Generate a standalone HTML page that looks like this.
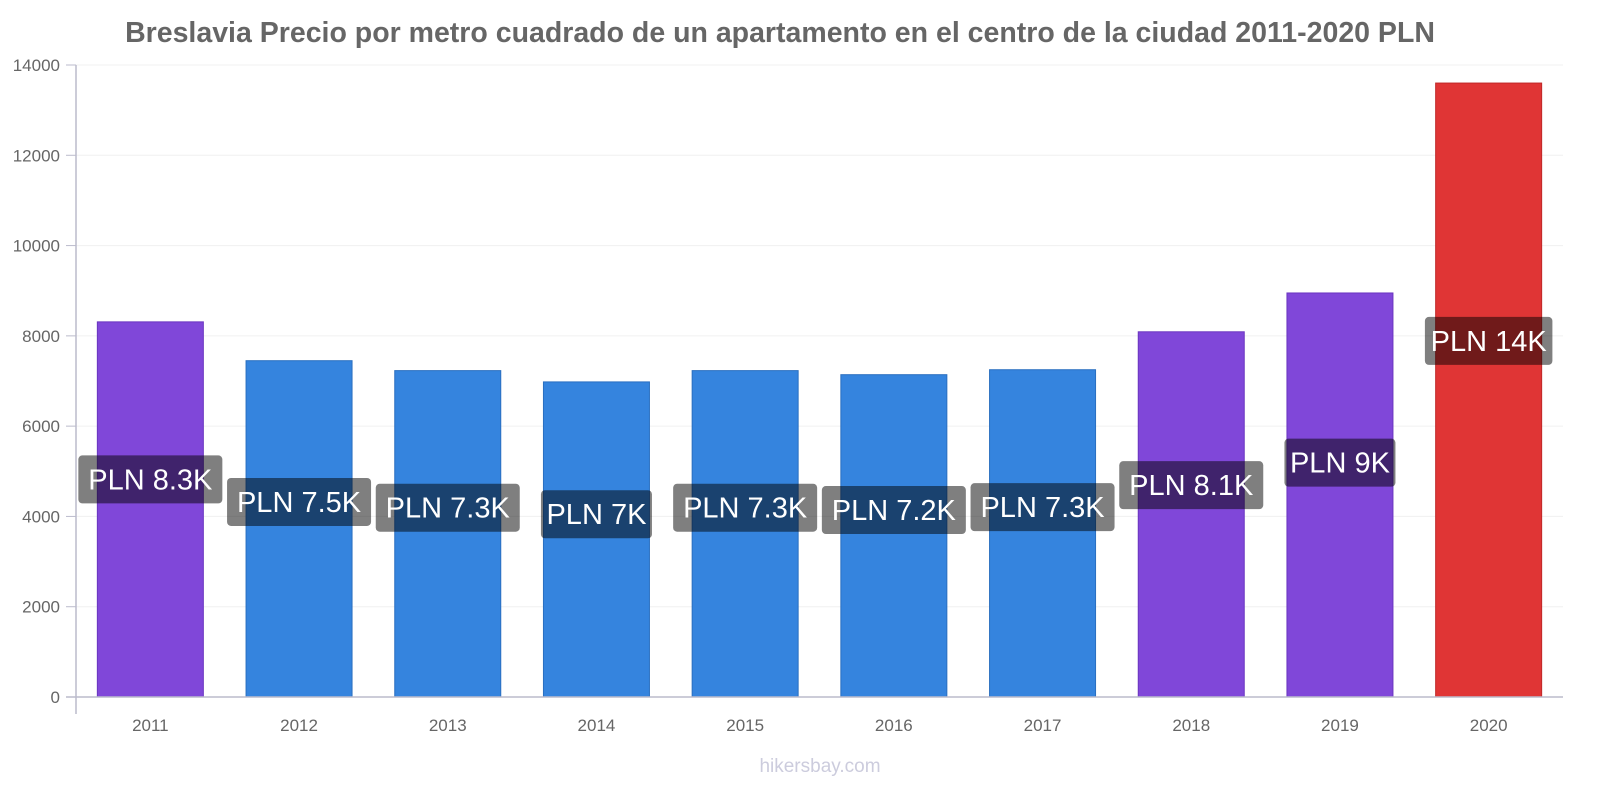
<!DOCTYPE html>
<html><head><meta charset="utf-8"><style>
body{margin:0;background:#fff;font-family:"Liberation Sans",sans-serif}
svg text{font-family:"Liberation Sans",sans-serif}
</style></head><body>
<svg width="1600" height="800" xmlns="http://www.w3.org/2000/svg" id="chart">
<text x="780" y="42" text-anchor="middle" font-size="28.5" font-weight="bold" fill="#666">Breslavia Precio por metro cuadrado de un apartamento en el centro de la ciudad 2011-2020 PLN</text>
<g id="grid"></g><g id="bars"></g><g id="labels"></g>
<line x1="76" y1="65" x2="76" y2="714" stroke="#bbc" stroke-width="1.5"/>
<line x1="66" y1="697" x2="1563" y2="697" stroke="#bbc" stroke-width="1.5"/>
<text x="820" y="772" text-anchor="middle" font-size="19" fill="#ccd">hikersbay.com</text>
</svg>
<script>
const categories=["2011","2012","2013","2014","2015","2016","2017","2018","2019","2020"];
const values=[8310,7450,7230,6980,7230,7140,7250,8090,8950,13600];
const labels=["PLN 8.3K","PLN 7.5K","PLN 7.3K","PLN 7K","PLN 7.3K","PLN 7.2K","PLN 7.3K","PLN 8.1K","PLN 9K","PLN 14K"];
const colorKeys=["p","b","b","b","b","b","b","p","p","r"];
const yTicks=[0,2000,4000,6000,8000,10000,12000,14000];
const NS="http://www.w3.org/2000/svg";
const x0=76,x1=1563,y0=697,yTop=65,yMax=14000;
const y=v=>y0-(v/yMax)*(y0-yTop);
const band=(x1-x0)/categories.length;
const xc=i=>x0+band*(i+0.5);
const col={p:"#8047d9",b:"#3584de",r:"#e03535"};
const stroke={p:"#6a35c0",b:"#2a6fc0",r:"#c02828"};
function mk(t,a,p){const e=document.createElementNS(NS,t);for(const k in a)e.setAttribute(k,a[k]);p.appendChild(e);return e;}
const grid=document.getElementById('grid'),bars=document.getElementById('bars'),lab=document.getElementById('labels');
yTicks.forEach(t=>{
 if(t>0){const l=mk('line',{x1:x0,x2:x1,y1:y(t),y2:y(t),stroke:'#f0f0f0'},grid);
 
 }
 const tk=mk('line',{x1:66,x2:76,y1:y(t),y2:y(t),stroke:'#bbc'},grid);
 
 
 const tx=mk('text',{x:60,y:y(t)+6,'text-anchor':'end','font-size':17,fill:'#666'},grid);
 tx.textContent=t;
 
 
});
const bw=106;
categories.forEach((c,i)=>{
 const k=colorKeys[i];
 const r=mk('rect',{x:xc(i)-bw/2,y:y(values[i]),width:bw,height:y0-y(values[i]),fill:col[k],stroke:stroke[k]},bars);
 
 
 const t=mk('text',{x:xc(i),y:731,'text-anchor':'middle','font-size':17,fill:'#666'},bars);
 t.textContent=c;
 
 
 const cy=y(values[i]*0.58);
 const w=labels[i].length*16.5+12;
 const g=mk('g',{},lab);
 
 
 mk('rect',{x:xc(i)-w/2,y:cy-24,width:w,height:48,rx:4,fill:'rgba(0,0,0,0.5)'},g);
 const tt=mk('text',{x:xc(i),y:cy+10,'text-anchor':'middle','font-size':29,fill:'#fff'},g);
 tt.textContent=labels[i];
});
</script>
</body></html>
